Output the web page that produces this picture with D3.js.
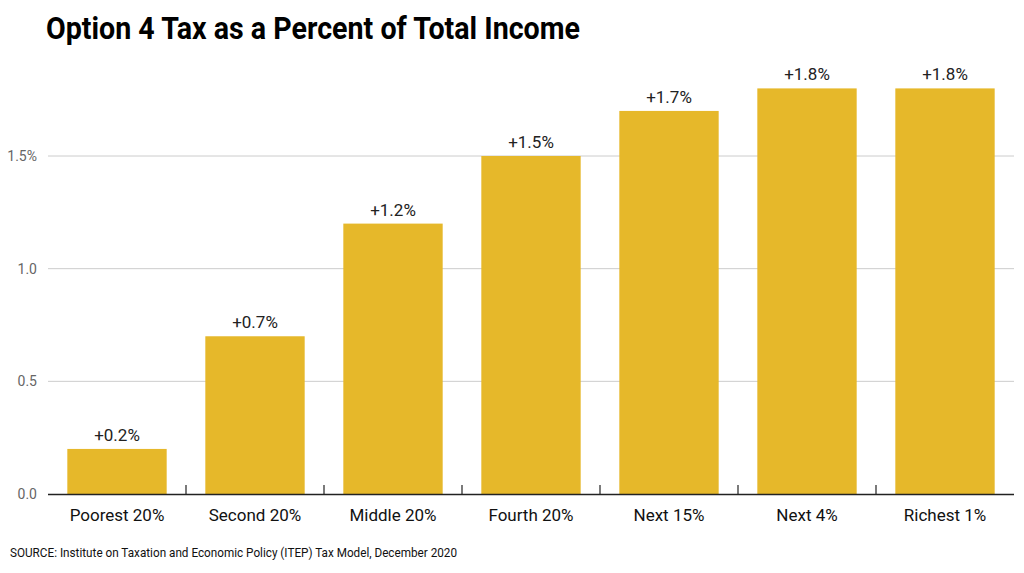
<!DOCTYPE html>
<html><head><meta charset="utf-8">
<script src="https://cdn.jsdelivr.net/npm/d3@7"></script>
<style>body{margin:0;background:#fff}svg{display:block}</style>
</head><body>
<svg id="c" width="1024" height="573"></svg>
<script>
const categories = ["Poorest 20%","Second 20%","Middle 20%","Fourth 20%","Next 15%","Next 4%","Richest 1%"];
const values = [0.2,0.7,1.2,1.5,1.7,1.8,1.8];
const valueLabels = ["+0.2%","+0.7%","+1.2%","+1.5%","+1.7%","+1.8%","+1.8%"];
const yTicks = [0,0.5,1.0,1.5];
const yTickLabels = ["0.0","0.5","1.0","1.5%"];
const title = "Option 4 Tax as a Percent of Total Income";
const source = "SOURCE: Institute on Taxation and Economic Policy (ITEP) Tax Model, December 2020";

const svg = d3.select("#c");
const left = 48, right = 1014, baseY = 494;
const x = d3.scaleBand().domain(categories).range([left, right]).paddingInner(0.28).paddingOuter(0.14);
const y = d3.scaleLinear().domain([0, 1.5]).range([baseY, 156]);

function fit(sel, w){ sel.attr("textLength", w).attr("lengthAdjust","spacingAndGlyphs"); }

svg.append("text").attr("x", 46).attr("y", 39).text(title)
  .attr("font-family","Roboto").attr("font-weight","bold").attr("font-size",31).attr("fill","#000")
  .call(fit, 534);

// gridlines
svg.append("g").selectAll("line").data(yTicks.filter(d=>d>0)).join("line")
  .attr("x1", left).attr("x2", right).attr("y1", d=>y(d)).attr("y2", d=>y(d))
  .attr("stroke","#cccccc").attr("stroke-width",1);

svg.append("g").selectAll("text").data(yTicks).join("text")
  .attr("x", 37).attr("y", d=>y(d)+5).attr("text-anchor","end")
  .attr("font-family","Roboto").attr("font-size",14).attr("fill","#666")
  .text((d,i)=>yTickLabels[i]);

// bars
svg.append("g").selectAll("rect").data(values).join("rect")
  .attr("x",(d,i)=>x(categories[i])).attr("width",x.bandwidth())
  .attr("y",d=>y(d)).attr("height",d=>baseY-y(d)).attr("fill","#E6B82A");

// value labels
svg.append("g").selectAll("text").data(values).join("text")
  .attr("x",(d,i)=>x(categories[i])+x.bandwidth()/2).attr("y",d=>y(d)-8)
  .attr("text-anchor","middle").attr("font-family","Roboto").attr("font-size",17).attr("fill","#222")
  .text((d,i)=>valueLabels[i]);

// baseline
svg.append("line").attr("x1",left).attr("x2",right).attr("y1",baseY+0.5).attr("y2",baseY+0.5)
  .attr("stroke","#222").attr("stroke-width",1.5);

// ticks between bars
const step = x.step();
svg.append("g").selectAll("line").data(categories.slice(0,-1)).join("line")
  .attr("x1",d=>x(d)+x.bandwidth()+(step-x.bandwidth())/2).attr("x2",d=>x(d)+x.bandwidth()+(step-x.bandwidth())/2)
  .attr("y1",baseY-9).attr("y2",baseY).attr("stroke","#222").attr("stroke-width",1.2);

// category labels
svg.append("g").selectAll("text").data(categories).join("text")
  .attr("x",d=>x(d)+x.bandwidth()/2).attr("y",521).attr("text-anchor","middle")
  .attr("font-family","Roboto").attr("font-size",17).attr("fill","#111").text(d=>d);

svg.append("text").attr("x",10).attr("y",557).text(source)
  .attr("font-family","Roboto").attr("font-size",13).attr("fill","#111").call(fit, 447);
</script>
</body></html>
